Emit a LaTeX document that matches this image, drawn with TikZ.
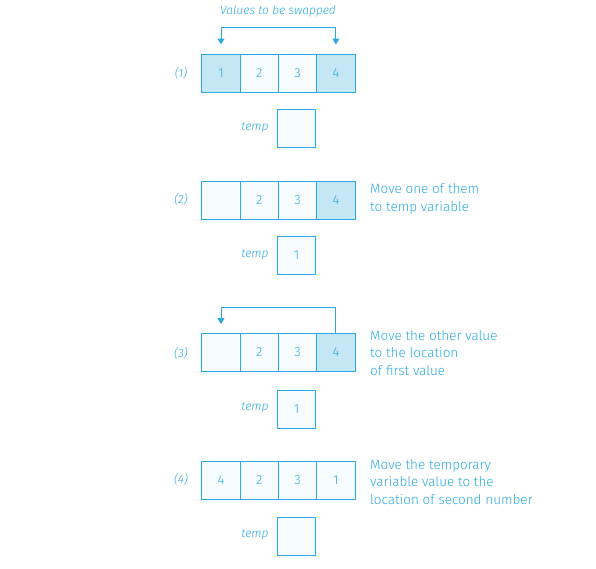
\documentclass[tikz,border=0pt]{standalone}
\usepackage{fontspec}
\setmainfont{Fira Sans}[UprightFont=* Light, ItalicFont=* Light Italic]
\usetikzlibrary{arrows.meta}
\definecolor{swapblue}{HTML}{29ABE2}
\definecolor{swapfill}{HTML}{C4E6F5}
\definecolor{cellfill}{HTML}{F6FBFE}
\tikzset{
  cell/.style={draw=swapblue, fill=cellfill, line width=1pt, minimum width=38.3pt,
    minimum height=38pt, inner sep=0pt, text=swapblue, font=\fontsize{13}{15}\selectfont},
  picked/.style={cell, fill=swapfill},
  steplabel/.style={text=swapblue, font=\fontsize{12}{14}\selectfont\itshape},
  note/.style={text=swapblue, anchor=west, align=left, inner sep=0pt,
    font=\fontsize{13.5}{17.5}\selectfont}
}
\begin{document}
\begin{tikzpicture}[x=1pt, y=-1pt, >={Triangle[length=6pt,width=7pt]}]
        \useasboundingbox (0,0) rectangle (596,568);

        % step 1
        \node[steplabel] (hint) at (278,11) {Values to be swapped};
        \node[steplabel] (l1) at (181,73) {(1)};
        \node[picked] (r1c1) at (221,73) {1};
        \node[cell]   (r1c2) at (259.3,73) {2};
        \node[cell]   (r1c3) at (297.6,73) {3};
        \node[picked] (r1c4) at (335.9,73) {4};
        \node[steplabel] (tl1) at (255,128) {temp};
        \node[cell] (t1) at (296.5,128.5) {};
        \coordinate (s1) at (221,27);
        \coordinate (s2) at (335.9,27);
        \draw[swapblue, line width=1pt, <->, shorten <=9pt, shorten >=9pt] (r1c1) -- (s1) -- (s2) -- (r1c4);

        % step 2
        \node[steplabel] (l2) at (181,199) {(2)};
        \node[cell]   (r2c1) at (221,200) {};
        \node[cell]   (r2c2) at (259.3,200) {2};
        \node[cell]   (r2c3) at (297.6,200) {3};
        \node[picked] (r2c4) at (335.9,200) {4};
        \node[note] (n2) at (370,199) {Move one of them\\to temp variable};
        \node[steplabel] (tl2) at (255,255) {temp};
        \node[cell] (t2) at (296.5,255.5) {1};

        % step 3
        \node[steplabel] (l3) at (181,353) {(3)};
        \node[cell]   (r3c1) at (221,352.5) {};
        \node[cell]   (r3c2) at (259.3,352.5) {2};
        \node[cell]   (r3c3) at (297.6,352.5) {3};
        \node[picked] (r3c4) at (335.9,352.5) {4};
        \node[note] (n3) at (370,353) {Move the other value\\to the location\\of first value};
        \node[steplabel] (tl3) at (255,408) {temp};
        \node[cell] (t3) at (296.5,409) {1};
        \coordinate (m1) at (335.9,307);
        \coordinate (m2) at (221,307);
        \draw[swapblue, line width=1pt, ->, shorten >=9pt] (r3c4) -- (m1) -- (m2) -- (r3c1);

        % step 4
        \node[steplabel] (l4) at (181,479) {(4)};
        \node[cell] (r4c1) at (221,480) {4};
        \node[cell] (r4c2) at (259.3,480) {2};
        \node[cell] (r4c3) at (297.6,480) {3};
        \node[cell] (r4c4) at (335.9,480) {1};
        \node[note] (n4) at (370,482) {Move the temporary\\variable value to the\\location of second number};
        \node[steplabel] (tl4) at (255,535) {temp};
        \node[cell] (t4) at (296.5,536) {};

\end{tikzpicture}
\end{document}
